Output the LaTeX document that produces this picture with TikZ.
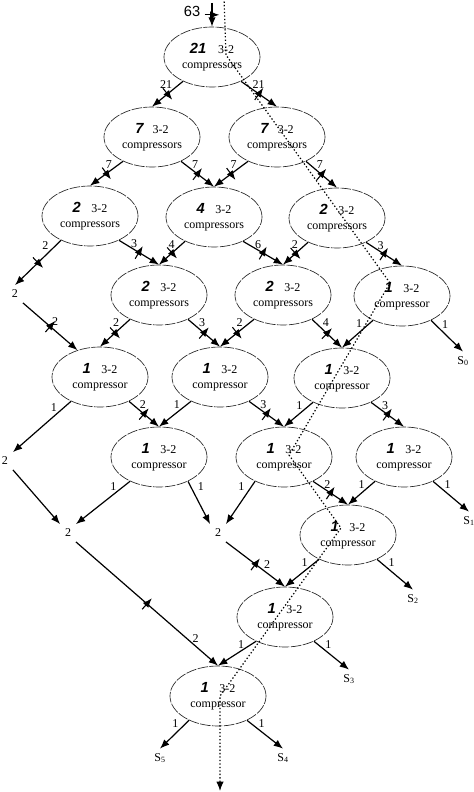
\documentclass[tikz,border=0pt]{standalone}
\usepackage{fontspec}
\setmainfont{Liberation Serif}
\newfontfamily\numfont{Liberation Sans}
\usetikzlibrary{shapes.geometric, arrows.meta, decorations.markings}
\newcommand{\cnum}[1]{{\numfont\bfseries\itshape\fontsize{11}{11}\selectfont #1}}

\begin{document}
\begin{tikzpicture}[
  x=0.75pt, y=-0.75pt,
  font=\fontsize{9}{11}\selectfont,
  compbox/.style={
    ellipse, draw=black!85, dash pattern=on 8pt off 1pt, line width=0.5pt, fill=white,
    minimum width=72pt, minimum height=45pt, inner sep=0pt, align=center
  },
  outbox/.style={inner sep=3.5pt},
  arr/.style={-{Latex[length=7pt, width=5.5pt]}, line width=0.9pt},
  ticked/.style={postaction={decorate}, decoration={markings,
      mark=at position 0.5 with {\draw[line width=0.8pt] (0,-5.5pt) -- (0,5.5pt);}}},
  lw/.style={pos=0.12, left=5pt, inner sep=0pt},
  le/.style={pos=0.12, right=5pt, inner sep=0pt},
  crit/.style={line width=0.9pt, dash pattern=on 1pt off 1.6pt},
]
\useasboundingbox (0,0) rectangle (474,792);

% Row 1
\node[compbox] (c21) at (212,57) {\cnum{21}\hspace{9pt}3-2\\compressors};
% Row 2
\node[compbox] (c7a) at (152,137) {\cnum{7}\hspace{7pt}3-2\\compressors};
\node[compbox] (c7b) at (277,137) {\cnum{7}\hspace{7pt}3-2\\compressors};
% Row 3
\node[compbox] (c2a) at (90,216) {\cnum{2}\hspace{8pt}3-2\\compressors};
\node[compbox] (c4) at (214,217) {\cnum{4}\hspace{8pt}3-2\\compressors};
\node[compbox] (c2b) at (337,218) {\cnum{2}\hspace{8pt}3-2\\compressors};
% Row 4
\node[outbox] (b2a) at (15,294) {2};
\node[compbox] (c2c) at (159,295) {\cnum{2}\hspace{8pt}3-2\\compressors};
\node[compbox] (c2d) at (283,295) {\cnum{2}\hspace{8pt}3-2\\compressors};
\node[compbox] (c1a) at (402,296) {\cnum{1}\hspace{8pt}3-2\\compressor};
% Row 5
\node[compbox] (c1b) at (100,377) {\cnum{1}\hspace{8pt}3-2\\compressor};
\node[compbox] (c1c) at (220,377) {\cnum{1}\hspace{8pt}3-2\\compressor};
\node[compbox] (c1d) at (342,378) {\cnum{1}\hspace{8pt}3-2\\compressor};
% Row 6
\node[outbox] (b2b) at (5,461) {2};
\node[compbox] (c1e) at (159,457) {\cnum{1}\hspace{8pt}3-2\\compressor};
\node[compbox] (c1f) at (284,457) {\cnum{1}\hspace{8pt}3-2\\compressor};
\node[compbox] (c1g) at (404,457) {\cnum{1}\hspace{8pt}3-2\\compressor};
% Row 7
\node[outbox] (b2c) at (68,533) {2};
\node[outbox] (b2d) at (218,533) {2};
\node[compbox] (c1h) at (348,535) {\cnum{1}\hspace{8pt}3-2\\compressor};
% Row 8 and 9
\node[compbox] (c1i) at (285,617) {\cnum{1}\hspace{8pt}3-2\\compressor};
\node[compbox] (c1j) at (218,696) {\cnum{1}\hspace{8pt}3-2\\compressor};

% outputs
\node (s0) at (463,361) {S\textsubscript{0}};
\node (s1) at (469,521) {S\textsubscript{1}};
\node (s2) at (413,599) {S\textsubscript{2}};
\node (s3) at (349,679) {S\textsubscript{3}};
\node (s4) at (283,758) {S\textsubscript{4}};
\node (s5) at (160,758) {S\textsubscript{5}};

% input bus
\coordinate (in) at (212,3);
\node (n63) at (192,11) {\numfont\fontsize{11}{11}\selectfont 63};
\draw[arr, ticked] (in) -- (c21.north);

% Row 1 -> Row 2
\draw[arr, ticked] (c21.220) -- node[lw]{21} (c7a.north);
\draw[arr, ticked] (c21.320) -- node[le]{21} (c7b.north);
% Row 2 -> Row 3
\draw[arr, ticked] (c7a.220) -- node[lw]{7} (c2a.north);
\draw[arr, ticked] (c7a.320) -- node[le]{7} (c4.north);
\draw[arr, ticked] (c7b.220) -- node[lw]{7} (c4.north);
\draw[arr, ticked] (c7b.320) -- node[le]{7} (c2b.north);
% Row 3 -> Row 4
\draw[arr, ticked] (c2a.220) -- node[lw]{2} (b2a.north);
\draw[arr, ticked] (c2a.320) -- node[le]{3} (c2c.north);
\draw[arr, ticked] (c4.220) -- node[lw]{4} (c2c.north);
\draw[arr, ticked] (c4.320) -- node[le]{6} (c2d.north);
\draw[arr, ticked] (c2b.220) -- node[lw]{2} (c2d.north);
\draw[arr, ticked] (c2b.320) -- node[le]{3} (c1a.north);
% Row 4 -> Row 5
\draw[arr, ticked] (b2a.south east) -- node[pos=0.4, right=5pt, inner sep=0pt]{2} (c1b.130);
\draw[arr, ticked] (c2c.220) -- node[lw]{2} (c1b.north);
\draw[arr, ticked] (c2c.320) -- node[le]{3} (c1c.north);
\draw[arr, ticked] (c2d.220) -- node[lw]{2} (c1c.north);
\draw[arr, ticked] (c2d.320) -- node[le]{4} (c1d.north);
\draw[arr] (c1a.220) -- node[lw]{1} (c1d.north);
\draw[arr] (c1a.320) -- node[le]{1} (s0.north);
% Row 5 -> Row 6
\draw[arr] (c1b.220) -- node[lw]{1} (b2b.north east);
\draw[arr, ticked] (c1b.320) -- node[le]{2} (c1e.north);
\draw[arr] (c1c.220) -- node[lw]{1} (c1e.north);
\draw[arr, ticked] (c1c.320) -- node[le]{3} (c1f.north);
\draw[arr] (c1d.220) -- node[lw]{1} (c1f.north);
\draw[arr, ticked] (c1d.320) -- node[le]{3} (c1g.north);
% Row 6 -> Row 7
\draw[arr] (b2b.south east) -- (b2c.north west);
\draw[arr] (c1e.220) -- node[lw]{1} (b2c.north east);
\draw[arr] (c1e.320) -- node[le]{1} (b2d.north west);
\draw[arr] (c1f.220) -- node[lw]{1} (b2d.north east);
\draw[arr, ticked] (c1f.320) -- node[le]{2} (c1h.north);
\draw[arr] (c1g.220) -- node[lw]{1} (c1h.north);
\draw[arr] (c1g.320) -- node[le]{1} (s1.north);
% Row 7 -> Rows 8 and 9
\draw[arr, ticked] (b2c.south east) -- node[pos=0.78, right=4pt, inner sep=0pt]{2} (c1j.north);
\draw[arr, ticked] (b2d.south east) -- node[midway, right=6pt, inner sep=0pt]{2} (c1i.north);
\draw[arr] (c1h.220) -- node[lw]{1} (c1i.north);
\draw[arr] (c1h.320) -- node[le]{1} (s2.north);
\draw[arr] (c1i.220) -- node[lw]{1} (c1j.north);
\draw[arr] (c1i.320) -- node[le]{1} (s3.north);
\draw[arr] (c1j.220) -- node[lw]{1} (s5.north);
\draw[arr] (c1j.320) -- node[le]{1} (s4.north);

% critical path, drawn over everything
\coordinate (cp0) at (224,-2);
\coordinate (cp1) at (226,55);
\coordinate (cp2) at (390,283);
\coordinate (cp3) at (289,455);
\coordinate (cp4) at (341,528);
\coordinate (cp5) at (220,696);
\coordinate (cp6) at (220,791);
\draw[crit, -{Latex[length=7pt, width=5.5pt]}] (cp0) -- (cp1) -- (cp2) -- (cp3) -- (cp4) -- (cp5) -- (cp6);
\end{tikzpicture}
\end{document}
